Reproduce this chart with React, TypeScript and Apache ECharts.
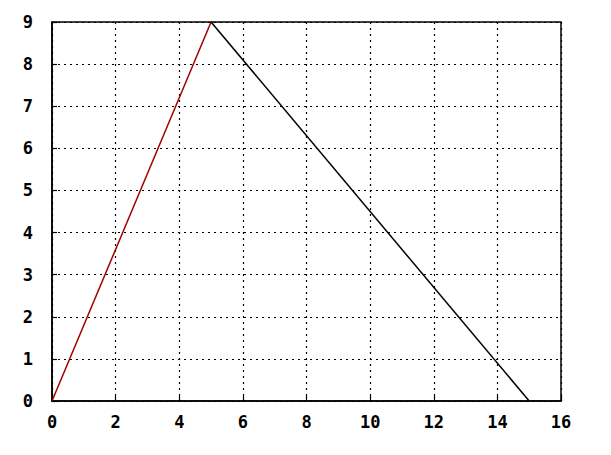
import { useEffect, useRef } from 'react';
import * as echarts from 'echarts';

// two segments of the plot
const riseX = [0, 5];
const riseY = [0, 9];
const fallX = [5, 15];
const fallY = [9, 0];

const X_MIN = 0;
const X_MAX = 16;
const X_STEP = 2;
const Y_MIN = 0;
const Y_MAX = 9;
const Y_STEP = 1;

const FONT = 'DejaVu Sans Mono';

export default function App() {
  const ref = useRef<HTMLDivElement | null>(null);

  useEffect(() => {
    if (!ref.current) return;
    document.body.style.margin = '0';
    const chart = echarts.init(ref.current, undefined, { renderer: 'svg' });

    const gridLine = { show: true, lineStyle: { color: '#000', width: 1.2, type: [2, 4] } };
    const label = { color: '#000', fontFamily: FONT, fontWeight: 'bold', fontSize: 17 };

    chart.setOption({
      animation: false,
      backgroundColor: '#fff',
      grid: {
        left: 52,
        right: 50,
        top: 22,
        bottom: 54,
        show: true,
        borderColor: '#000',
        borderWidth: 1.5,
      },
      xAxis: {
        type: 'value',
        min: X_MIN,
        max: X_MAX,
        interval: X_STEP,
        axisLine: { show: true, lineStyle: { color: '#000', width: 1.5 } },
        axisTick: { show: true, inside: true, length: 5, lineStyle: { color: '#000', width: 1.2 } },
        splitLine: gridLine,
        axisLabel: { ...label, margin: 12 },
      },
      yAxis: {
        type: 'value',
        min: Y_MIN,
        max: Y_MAX,
        interval: Y_STEP,
        axisLine: { show: true, lineStyle: { color: '#000', width: 1.5 } },
        axisTick: { show: true, inside: true, length: 5, lineStyle: { color: '#000', width: 1.2 } },
        splitLine: gridLine,
        axisLabel: { ...label, margin: 19 },
      },
      series: [
        {
          type: 'line',
          data: riseX.map((x, i) => [x, riseY[i]]),
          showSymbol: false,
          lineStyle: { color: '#a00000', width: 1.5 },
        },
        {
          type: 'line',
          data: fallX.map((x, i) => [x, fallY[i]]),
          showSymbol: false,
          lineStyle: { color: '#000', width: 1.5 },
        },
      ],
    });

    return () => chart.dispose();
  }, []);

  return <div ref={ref} style={{ width: 611, height: 455 }} />;
}
